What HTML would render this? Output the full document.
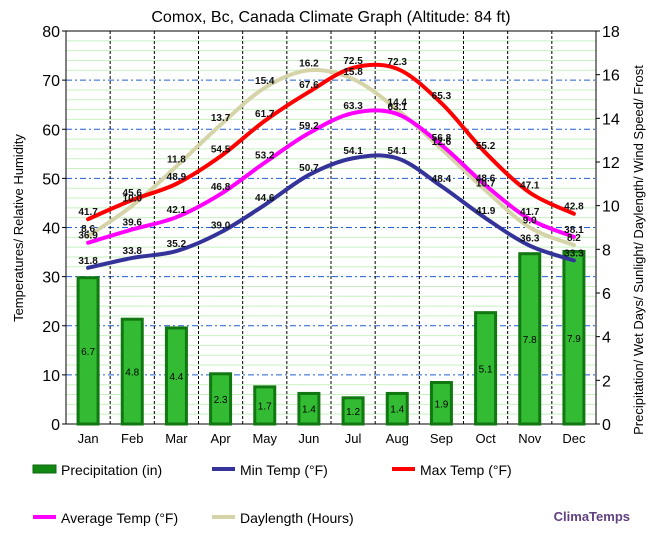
<!DOCTYPE html>
<html><head><meta charset="utf-8"><style>body{margin:0;background:#fff}svg{font-family:"Liberation Sans",sans-serif}</style></head>
<body>
<svg id="c" width="661" height="543"></svg>
<script>
const months=["Jan","Feb","Mar","Apr","May","Jun","Jul","Aug","Sep","Oct","Nov","Dec"];
const precip=[6.7,4.8,4.4,2.3,1.7,1.4,1.2,1.4,1.9,5.1,7.8,7.9];
const minT=[31.8,33.8,35.2,39.0,44.6,50.7,54.1,54.1,48.4,41.9,36.3,33.3];
const maxT=[41.7,45.6,48.9,54.5,61.7,67.6,72.5,72.3,65.3,55.2,47.1,42.8];
const avgT=[36.9,39.6,42.1,46.8,53.2,59.2,63.3,63.1,56.8,48.6,41.7,38.1];
const dayL=[8.6,10.0,11.8,13.7,15.4,16.2,15.8,14.4,12.6,10.7,9.0,8.2];
const leftTicks=[0,10,20,30,40,50,60,70,80];
const rightTicks=[0,2,4,6,8,10,12,14,16,18];
const NS="http://www.w3.org/2000/svg";
const svg=document.getElementById('c');
const X0=66,X1=596,Y0=424,Y1=31;
const bw=(X1-X0)/12;
const xc=i=>X0+bw*(i+0.5);
const yL=v=>Y0-(v/80)*(Y0-Y1);
const yR=v=>Y0-(v/18)*(Y0-Y1);
function el(t,a,p){const e=document.createElementNS(NS,t);for(const k in a)e.setAttribute(k,a[k]);(p||svg).appendChild(e);return e;}
function txt(s,a){const e=el('text',a);e.textContent=s;return e;}
for(let v=2;v<80;v+=2){if(v%10)el('line',{x1:X0,x2:X1,y1:yL(v),y2:yL(v),stroke:'#c8f0c0','stroke-width':1});}
for(let v=10;v<80;v+=10){const g=el('line',{x1:X0,x2:X1,y1:yL(v),y2:yL(v),stroke:'#2060d0','stroke-width':1,'stroke-dasharray':'6,3,2,3'});}
for(let i=1;i<12;i++)el('line',{x1:X0+bw*i,x2:X0+bw*i,y1:Y1,y2:Y0,stroke:'#000','stroke-width':1,'stroke-dasharray':'3,2'});
el('rect',{x:X0,y:Y1,width:X1-X0,height:Y0-Y1,fill:'none',stroke:'#000'});
precip.forEach((v,i)=>{const b=el('rect',{x:xc(i)-10,y:yR(v),width:20,height:Y0-yR(v),fill:'#33bb33',stroke:'#117711','stroke-width':3});


txt(v.toFixed(1),{x:xc(i),y:(yR(v)+Y0)/2+4,'font-size':10,'text-anchor':'middle',fill:'#000'});});
function path(vals,f){let pts=vals.map((v,i)=>[xc(i),f(v)]);let d='M'+pts[0];for(let i=0;i<pts.length-1;i++){const p0=pts[Math.max(0,i-1)],p1=pts[i],p2=pts[i+1],p3=pts[Math.min(pts.length-1,i+2)];const c1=[p1[0]+(p2[0]-p0[0])/6,p1[1]+(p2[1]-p0[1])/6],c2=[p2[0]-(p3[0]-p1[0])/6,p2[1]-(p3[1]-p1[1])/6];d+='C'+c1+' '+c2+' '+p2;}return d;}
function series(vals,f,color,name){const p=el('path',{d:path(vals,f),fill:'none',stroke:color,'stroke-width':4,'stroke-linecap':'round'});}
series(dayL,yR,'#d4d4a8','daylength-line');
series(minT,yL,'#333399','min-temp-line');
series(avgT,yL,'#ff00ff','avg-temp-line');
series(maxT,yL,'#ff0000','max-temp-line');
[[dayL,yR],[minT,yL],[avgT,yL],[maxT,yL]].forEach(([vals,f])=>vals.forEach((v,i)=>txt(v.toFixed(1),{x:xc(i),y:f(v)-4,'font-size':10,'font-weight':'bold','text-anchor':'middle',fill:'#111'})));
leftTicks.forEach(v=>{txt(String(v),{x:X0-6,y:yL(v)+6,'font-size':16,'text-anchor':'end'});el('line',{x1:X0-4,x2:X0,y1:yL(v),y2:yL(v),stroke:'#000'});});
rightTicks.forEach(v=>{txt(String(v),{x:X1+6,y:yR(v)+6,'font-size':16});el('line',{x1:X1,x2:X1+4,y1:yR(v),y2:yR(v),stroke:'#000'});});
months.forEach((m,i)=>txt(m,{x:xc(i),y:443,'font-size':13,'text-anchor':'middle'}));
txt('Comox, Bc, Canada Climate Graph (Altitude: 84 ft)',{x:331,y:22,'font-size':16,'text-anchor':'middle'});
txt('Temperatures/ Relative Humidity',{transform:'translate(23,228) rotate(-90)','font-size':13,'text-anchor':'middle'});
txt('Precipitation/ Wet Days/ Sunlight/ Daylength/ Wind Speed/ Frost',{transform:'translate(643,250) rotate(-90)','font-size':13,'text-anchor':'middle'});
const leg=[['Precipitation (in)','#118811',33,470,true],['Min Temp (°F)','#333399',212,470],['Max Temp (°F)','#ff0000',392,470],['Average Temp (°F)','#ff00ff',33,518],['Daylength (Hours)','#d4d4a8',212,518]];
leg.forEach(([t,c,x,y,bar])=>{const g=el('g',{});
if(bar)el('rect',{x:x,y:y-5,width:23,height:8,fill:'#118811',stroke:'#116611'},g);else el('line',{x1:x,x2:x+23,y1:y-1,y2:y-1,stroke:c,'stroke-width':4},g);
const e=el('text',{x:x+28,y:y+5,'font-size':14},g);e.textContent=t;});
txt('ClimaTemps',{x:630,y:521,'font-size':13,'font-weight':'bold','text-anchor':'end',fill:'#604080'});
</script>
</body></html>
